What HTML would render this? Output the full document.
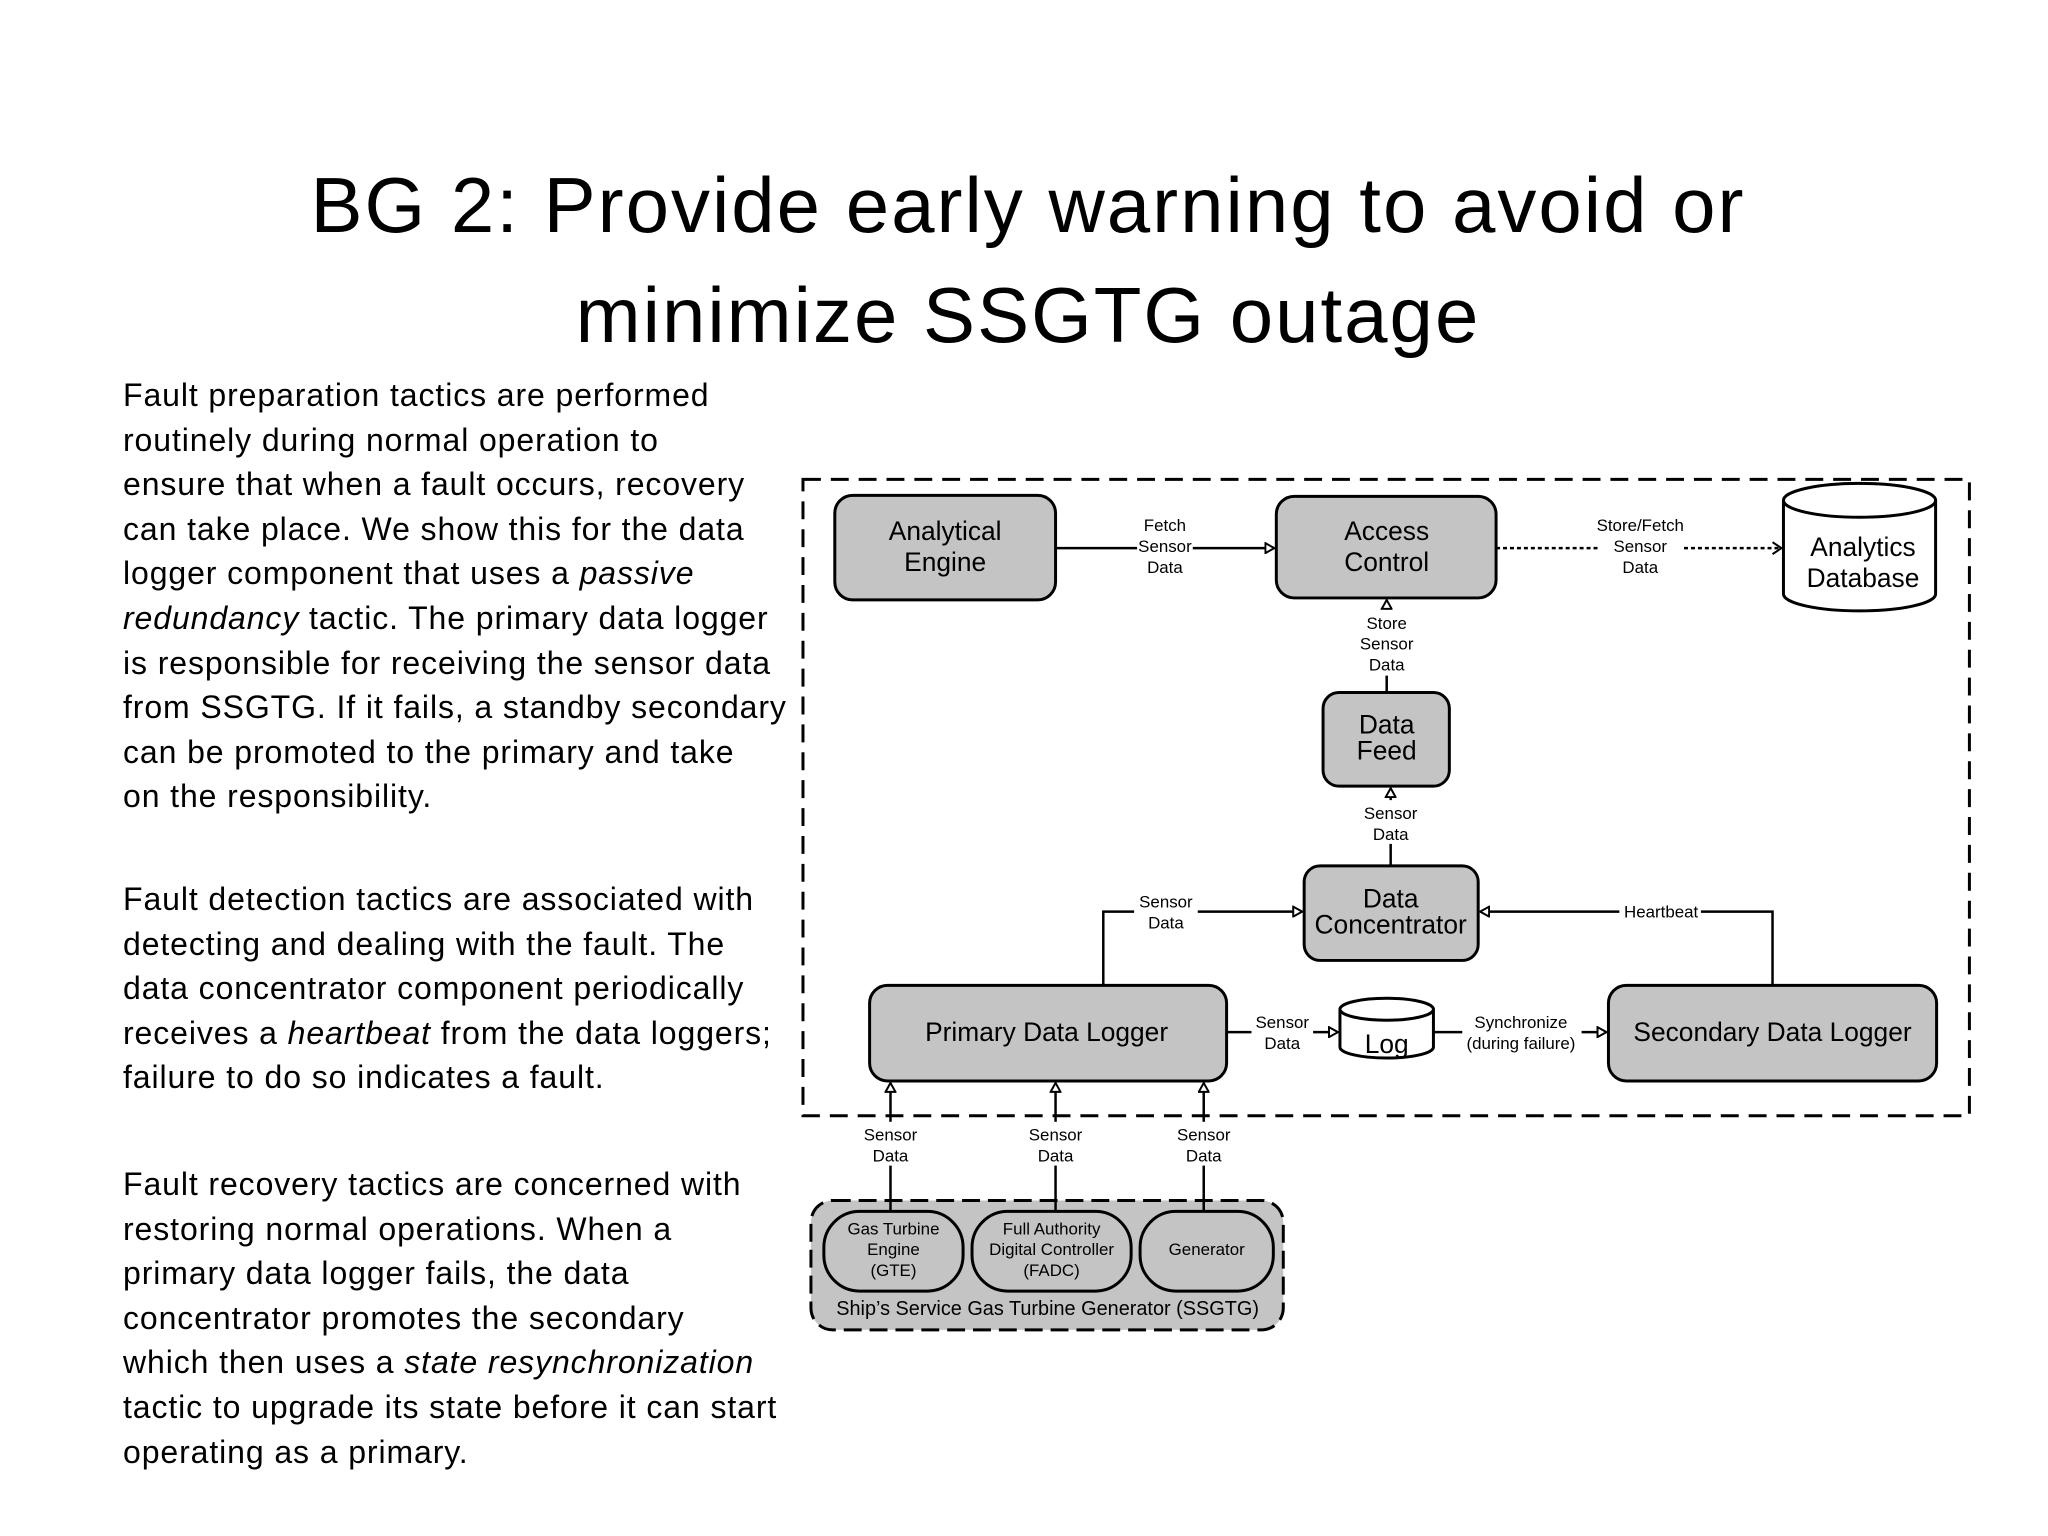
<!DOCTYPE html>
<html><head><meta charset="utf-8"><style>
html,body{margin:0;padding:0;background:#fff;}
#page{position:relative;width:2048px;height:1536px;overflow:hidden;background:#fff;font-family:"Liberation Sans",sans-serif;color:#000;}
.title{position:absolute;left:0;width:2056px;top:150px;text-align:center;font-size:78px;letter-spacing:2px;line-height:110px;}
.p{position:absolute;left:123px;font-size:32px;letter-spacing:0.9px;line-height:44.6px;white-space:nowrap;}
svg{position:absolute;left:0;top:0;}
svg text{font-family:"Liberation Sans",sans-serif;}
</style></head><body><div id="page">
<div class="title">BG 2: Provide early warning to avoid or<br>minimize SSGTG outage</div>
<div class="p" style="top:373px">Fault preparation tactics are performed<br>routinely during normal operation to<br>ensure that when a fault occurs, recovery<br>can take place. We show this for the data<br>logger component that uses a <i>passive</i><br><i>redundancy</i> tactic. The primary data logger<br>is responsible for receiving the sensor data<br>from SSGTG. If it fails, a standby secondary<br>can be promoted to the primary and take<br>on the responsibility.</div>
<div class="p" style="top:877px">Fault detection tactics are associated with<br>detecting and dealing with the fault. The<br>data concentrator component periodically<br>receives a <i>heartbeat</i> from the data loggers;<br>failure to do so indicates a fault.</div>
<div class="p" style="top:1162px">Fault recovery tactics are concerned with<br>restoring normal operations. When a<br>primary data logger fails, the data<br>concentrator promotes the secondary<br>which then uses a <i>state resynchronization</i><br>tactic to upgrade its state before it can start<br>operating as a primary.</div>
<svg width="2048" height="1536" viewBox="0 0 2048 1536">
<defs>
<marker id="a" markerWidth="12" markerHeight="12" refX="10" refY="6" orient="auto" markerUnits="userSpaceOnUse"><path d="M1,1 L10,6 L1,11 Z" fill="#fff" stroke="#000" stroke-width="2"/></marker>
<marker id="o" markerWidth="12" markerHeight="14" refX="10" refY="7" orient="auto" markerUnits="userSpaceOnUse"><path d="M1,1 L10,7 L1,13" fill="none" stroke="#000" stroke-width="2"/></marker>
</defs>
<g transform="translate(0.5,-0.6) scale(0.9944,0.9959)">
<g stroke="#000" stroke-width="3" fill="none">
<rect x="807" y="482" width="1173" height="639" stroke-dasharray="18,10"/>
</g>
<rect x="815" y="1206" width="475" height="130" rx="22" fill="#c4c4c4" stroke="#000" stroke-width="3" stroke-dasharray="18,8"/>
<g fill="#c4c4c4" stroke="#000" stroke-width="3">
<rect x="828" y="1217" width="140" height="80" rx="36"/>
<rect x="977" y="1217" width="160" height="80" rx="36"/>
<rect x="1146" y="1217" width="134" height="80" rx="36"/>
<rect x="839" y="498" width="222" height="105" rx="18"/>
<rect x="1283" y="499" width="221" height="102" rx="18"/>
<rect x="1330" y="696" width="127" height="94" rx="16"/>
<rect x="1311" y="870" width="175" height="95" rx="16"/>
<rect x="874" y="990" width="359" height="96" rx="18"/>
<rect x="1617" y="990" width="330" height="96" rx="18"/>
</g>
<g fill="#fff" stroke="#000" stroke-width="3">
<path d="M1793,503 L1793,597 A76.5,17 0 0 0 1946,597 L1946,503"/>
<ellipse cx="1869.5" cy="503" rx="76.5" ry="17"/>
<path d="M1347,1014 L1347,1052 A47,11 0 0 0 1441,1052 L1441,1014"/>
<ellipse cx="1394" cy="1014" rx="47" ry="11"/>
</g>
<g stroke="#000" stroke-width="2.5" fill="none">
<line x1="1061" y1="551" x2="1281" y2="551" marker-end="url(#a)"/>
<line x1="1504" y1="551" x2="1791" y2="551" stroke-dasharray="4,3" marker-end="url(#o)"/>
<line x1="1394" y1="696" x2="1394" y2="603" marker-end="url(#a)"/>
<line x1="1398" y1="870" x2="1398" y2="792" marker-end="url(#a)"/>
<polyline points="1109,990 1109,916 1309,916" marker-end="url(#a)"/>
<polyline points="1782,990 1782,916 1488,916" marker-end="url(#a)"/>
<line x1="1233" y1="1037" x2="1345" y2="1037" marker-end="url(#a)"/>
<line x1="1441" y1="1037" x2="1615" y2="1037" marker-end="url(#a)"/>
<line x1="895" y1="1217" x2="895" y2="1088" marker-end="url(#a)"/>
<line x1="1061" y1="1217" x2="1061" y2="1088" marker-end="url(#a)"/>
<line x1="1210" y1="1217" x2="1210" y2="1088" marker-end="url(#a)"/>
</g>
<g fill="#fff">
<rect x="1143" y="515" width="56" height="64"/>
<rect x="1608" y="515" width="82" height="64"/>
<rect x="1364" y="613" width="60" height="66"/>
<rect x="1368" y="804" width="60" height="44"/>
<rect x="1140" y="893" width="64" height="44"/>
<rect x="1628" y="905" width="82" height="22"/>
<rect x="1258" y="1014" width="62" height="44"/>
<rect x="1470" y="1014" width="120" height="44"/>
<rect x="862" y="1127" width="66" height="44"/>
<rect x="1028" y="1127" width="66" height="44"/>
<rect x="1177" y="1127" width="66" height="44"/>
</g>
<g font-size="26.5" text-anchor="middle">
<text x="950" y="543">Analytical</text><text x="950" y="574">Engine</text>
<text x="1394" y="543">Access</text><text x="1394" y="574">Control</text>
<text x="1873" y="559">Analytics</text><text x="1873" y="590">Database</text>
<text x="1394" y="737">Data</text><text x="1394" y="763">Feed</text>
<text x="1398" y="912">Data</text><text x="1398" y="938">Concentrator</text>
<text x="1052" y="1046">Primary Data Logger</text>
<text x="1782" y="1046">Secondary Data Logger</text>
<text x="1394" y="1058">Log</text>
</g>
<g font-size="17" text-anchor="middle">
<text x="1171" y="534">Fetch</text><text x="1171" y="555">Sensor</text><text x="1171" y="576">Data</text>
<text x="1649" y="534">Store/Fetch</text><text x="1649" y="555">Sensor</text><text x="1649" y="576">Data</text>
<text x="1394" y="632">Store</text><text x="1394" y="653">Sensor</text><text x="1394" y="674">Data</text>
<text x="1398" y="823">Sensor</text><text x="1398" y="844">Data</text>
<text x="1172" y="912">Sensor</text><text x="1172" y="933">Data</text>
<text x="1670" y="922">Heartbeat</text>
<text x="1289" y="1033">Sensor</text><text x="1289" y="1054">Data</text>
<text x="1529" y="1033">Synchronize</text><text x="1529" y="1054">(during failure)</text>
<text x="895" y="1146">Sensor</text><text x="895" y="1167">Data</text>
<text x="1061" y="1146">Sensor</text><text x="1061" y="1167">Data</text>
<text x="1210" y="1146">Sensor</text><text x="1210" y="1167">Data</text>
<text x="898" y="1240">Gas Turbine</text><text x="898" y="1261">Engine</text><text x="898" y="1282">(GTE)</text>
<text x="1057" y="1240">Full Authority</text><text x="1057" y="1261">Digital Controller</text><text x="1057" y="1282">(FADC)</text>
<text x="1213" y="1261">Generator</text>
</g>
<text x="1053" y="1321" font-size="20" text-anchor="middle">Ship’s Service Gas Turbine Generator (SSGTG)</text>
</g>
</svg>
</div></body></html>
